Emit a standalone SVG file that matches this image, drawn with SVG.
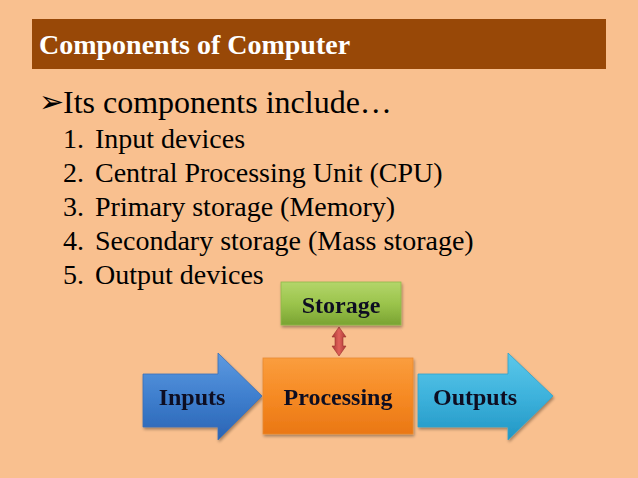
<svg xmlns="http://www.w3.org/2000/svg" width="638" height="478" viewBox="0 0 638 478">
  <defs>
    <linearGradient id="gGreen" x1="0" y1="0" x2="0" y2="1">
      <stop offset="0" stop-color="#b3d56a"/>
      <stop offset="0.5" stop-color="#9bc44c"/>
      <stop offset="1" stop-color="#7aa332"/>
    </linearGradient>
    <linearGradient id="gOrange" x1="0" y1="0" x2="0" y2="1">
      <stop offset="0" stop-color="#fa9d3e"/>
      <stop offset="0.5" stop-color="#f68a24"/>
      <stop offset="1" stop-color="#ea7714"/>
    </linearGradient>
    <linearGradient id="gBlue" x1="0" y1="0" x2="0" y2="1">
      <stop offset="0" stop-color="#5e9ae0"/>
      <stop offset="0.5" stop-color="#3f7fce"/>
      <stop offset="1" stop-color="#2a64b4"/>
    </linearGradient>
    <linearGradient id="gCyan" x1="0" y1="0" x2="0" y2="1">
      <stop offset="0" stop-color="#5cc8ea"/>
      <stop offset="0.5" stop-color="#3db2dc"/>
      <stop offset="1" stop-color="#2196c4"/>
    </linearGradient>
    <linearGradient id="gRed" x1="0" y1="0" x2="1" y2="0">
      <stop offset="0" stop-color="#a83834"/>
      <stop offset="0.5" stop-color="#e0605a"/>
      <stop offset="1" stop-color="#a83834"/>
    </linearGradient>
    <filter id="sh" x="-10%" y="-10%" width="130%" height="140%">
      <feGaussianBlur in="SourceAlpha" stdDeviation="1.5"/>
      <feOffset dx="1" dy="2" result="b"/>
      <feComponentTransfer><feFuncA type="linear" slope="0.35"/></feComponentTransfer>
      <feMerge><feMergeNode/><feMergeNode in="SourceGraphic"/></feMerge>
    </filter>
  </defs>
  <style>
    .title { font-family: "Liberation Serif", "Times New Roman", serif; font-weight: bold; font-size: 28px; fill: #ffffff; }
    .head { font-family: "Liberation Serif", "Times New Roman", serif; font-size: 32px; fill: #000000; }
    .bullet { font-family: "DejaVu Sans", sans-serif; font-size: 30px; fill: #000000; }
    .item { font-family: "Liberation Serif", "Times New Roman", serif; font-size: 28px; fill: #000000; }
    .lbl { font-family: "Liberation Serif", "Times New Roman", serif; font-weight: bold; font-size: 24px; fill: #111122; text-anchor: middle; }
  </style>
  <rect x="0" y="0" width="638" height="478" fill="#f9c08f"/>
  <g id="title-bar">
    <rect x="32" y="19" width="574" height="50" fill="#984807"/>
    <text class="title" x="39" y="54">Components of Computer</text>
  </g>
  <g id="text-list">
    <text class="bullet" x="39" y="112">➢</text>
    <text class="head" x="63" y="113">Its components include…</text>
    <text class="item" x="63" y="148">1.</text><text class="item" x="95" y="148">Input devices</text>
    <text class="item" x="63" y="182">2.</text><text class="item" x="95" y="182">Central Processing Unit (CPU)</text>
    <text class="item" x="63" y="216">3.</text><text class="item" x="95" y="216">Primary storage (Memory)</text>
    <text class="item" x="63" y="250">4.</text><text class="item" x="95" y="250">Secondary storage (Mass storage)</text>
    <text class="item" x="63" y="284">5.</text><text class="item" x="95" y="284">Output devices</text>
  </g>
  <g id="connectors">
    <path d="M339,327 L346,337 L343,337 L343,346 L346,346 L339,356 L332,346 L335,346 L335,337 L332,337 Z" fill="url(#gRed)" stroke="#9a2f2b" stroke-width="0.6"/>
  </g>
  <g id="node-storage" filter="url(#sh)">
    <rect x="281" y="282" width="120" height="43" fill="url(#gGreen)" stroke="#8fb84a" stroke-width="0.8"/>
    <text class="lbl" x="341" y="313">Storage</text>
  </g>
  <g id="node-inputs" filter="url(#sh)">
    <path d="M143,374 L218,374 L218,353 L262,396 L218,440 L218,427 L143,427 Z" fill="url(#gBlue)" stroke="#3a70b8" stroke-width="0.8"/>
    <text class="lbl" x="192" y="405">Inputs</text>
  </g>
  <g id="node-processing" filter="url(#sh)">
    <rect x="263" y="358" width="150" height="76" fill="url(#gOrange)" stroke="#e88a30" stroke-width="0.8"/>
    <text class="lbl" x="338" y="405">Processing</text>
  </g>
  <g id="node-outputs" filter="url(#sh)">
    <path d="M418,374 L508,374 L508,353 L553,396 L508,440 L508,427 L418,427 Z" fill="url(#gCyan)" stroke="#2ea2cc" stroke-width="0.8"/>
    <text class="lbl" x="475" y="405">Outputs</text>
  </g>
</svg>
